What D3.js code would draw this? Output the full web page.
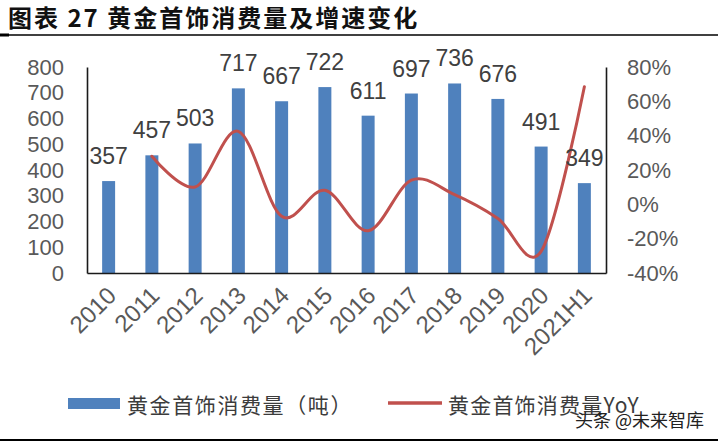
<!DOCTYPE html>
<html><head><meta charset="utf-8">
<script src="https://cdn.jsdelivr.net/npm/d3@7/dist/d3.min.js"></script>
<style>
html,body{margin:0;padding:0;background:#fff;}
svg{display:block;}
</style></head>
<body>
<script>
const categories = ["2010","2011","2012","2013","2014","2015","2016","2017","2018","2019","2020","2021H1"];
const consumption = [357,457,503,717,667,722,611,697,736,676,491,349];
const yoyCategories = ["2011","2012","2013","2014","2015","2016","2017","2018","2019","2020","2021H1"];
const yoyValues = [28.0,10.1,42.5,-7.0,8.2,-15.4,14.1,5.6,-8.2,-27.4,68.5];
const leftTicks = [0,100,200,300,400,500,600,700,800];
const rightTicks = [-40,-20,0,20,40,60,80];
const titleText = "图表 27 黄金首饰消费量及增速变化";
const legendBar = "黄金首饰消费量（吨）";
const legendLine = "黄金首饰消费量YoY";
const watermark = "头条 @未来智库";

const W = 718, H = 442;
const plot = {left: 87, right: 606, top: 67, bottom: 273};
const svg = d3.select("body").append("svg").attr("width", W).attr("height", H);
const num = "'Liberation Sans', Arial, sans-serif";
const cjk = "'Noto Sans CJK SC', sans-serif";

// Title
svg.append("text").attr("x", 8).attr("y", 27)
  .attr("font-family", cjk).attr("font-weight", 700).attr("font-size", 24)
  .attr("letter-spacing", 2).attr("fill", "#111").text(titleText);
svg.append("line").attr("x1", 0).attr("x2", W).attr("y1", 35).attr("y2", 35).attr("stroke", "#000").attr("stroke-width", 1.5);
svg.append("line").attr("x1", 0).attr("x2", 9).attr("y1", 35).attr("y2", 35).attr("stroke", "#000").attr("stroke-width", 3);

const x = d3.scaleBand().domain(categories).range([plot.left, plot.right]).padding(0);
const yL = d3.scaleLinear().domain([0, 800]).range([plot.bottom, plot.top]);
const yR = d3.scaleLinear().domain([-40, 80]).range([plot.bottom, plot.top]);
const barW = x.bandwidth() * 0.3;

// Bars
svg.append("g").selectAll("rect").data(categories).join("rect")
  .attr("x", d => x(d) + x.bandwidth()/2 - barW/2)
  .attr("y", (d,i) => yL(consumption[i]))
  .attr("width", barW)
  .attr("height", (d,i) => plot.bottom - yL(consumption[i]))
  .attr("fill", "#4F81BD");

// Axes (no tick marks)
const leftAxis = svg.append("g").attr("transform", `translate(${plot.left},0)`)
  .call(d3.axisLeft(yL).tickValues(leftTicks).tickSize(0).tickPadding(23));
const rightAxis = svg.append("g").attr("transform", `translate(${plot.right},0)`)
  .call(d3.axisRight(yR).tickValues(rightTicks).tickSize(0).tickPadding(21).tickFormat(d => d + "%"));
const bottomAxis = svg.append("g").attr("transform", `translate(0,${plot.bottom})`)
  .call(d3.axisBottom(x).tickSize(0).tickPadding(0));
[leftAxis, rightAxis, bottomAxis].forEach(g => {
  g.select(".domain").attr("stroke", "#1a1a1a").attr("stroke-width", 1.6);
  g.selectAll("text").attr("font-family", num).attr("font-size", 22).attr("fill", "#595959");
});
bottomAxis.selectAll(".tick text")
  .attr("text-anchor", "end")
  .attr("dy", 0)
  .attr("font-size", 24)
  .attr("transform", "translate(9,24) rotate(-45)");

// Line
const line = d3.line()
  .x((d,i) => x(yoyCategories[i]) + x.bandwidth()/2)
  .y(d => yR(d))
  .curve(d3.curveCardinal.tension(0));
svg.append("path").datum(yoyValues).attr("d", line)
  .attr("fill", "none").attr("stroke", "#C0504D").attr("stroke-width", 3).attr("stroke-linecap", "round");

// Data labels
svg.append("g").selectAll("text").data(categories).join("text")
  .attr("x", d => x(d) + x.bandwidth()/2)
  .attr("y", (d,i) => yL(consumption[i]) - 17)
  .attr("text-anchor", "middle")
  .attr("font-family", num).attr("font-size", 23).attr("fill", "#404040")
  .text((d,i) => consumption[i]);

// Legend
svg.append("rect").attr("x", 68).attr("y", 398).attr("width", 52).attr("height", 11).attr("fill", "#4F81BD");
svg.append("text").attr("x", 127).attr("y", 413).attr("font-family", cjk).attr("font-size", 21)
  .attr("letter-spacing", 1.6).attr("fill", "#3c3c3c").text(legendBar);
svg.append("line").attr("x1", 388).attr("x2", 442).attr("y1", 403).attr("y2", 403)
  .attr("stroke", "#C0504D").attr("stroke-width", 3.5);
svg.append("text").attr("x", 448).attr("y", 413).attr("font-family", cjk).attr("font-size", 21)
  .attr("letter-spacing", 1.2).attr("fill", "#3c3c3c").text(legendLine);

// Watermark
svg.append("text").attr("x", 575).attr("y", 427).attr("font-family", cjk).attr("font-size", 18)
  .attr("fill", "#222").text(watermark);

// Bottom rule
svg.append("line").attr("x1", 0).attr("x2", W).attr("y1", 440).attr("y2", 440).attr("stroke", "#000").attr("stroke-width", 2);
</script>
</body></html>
